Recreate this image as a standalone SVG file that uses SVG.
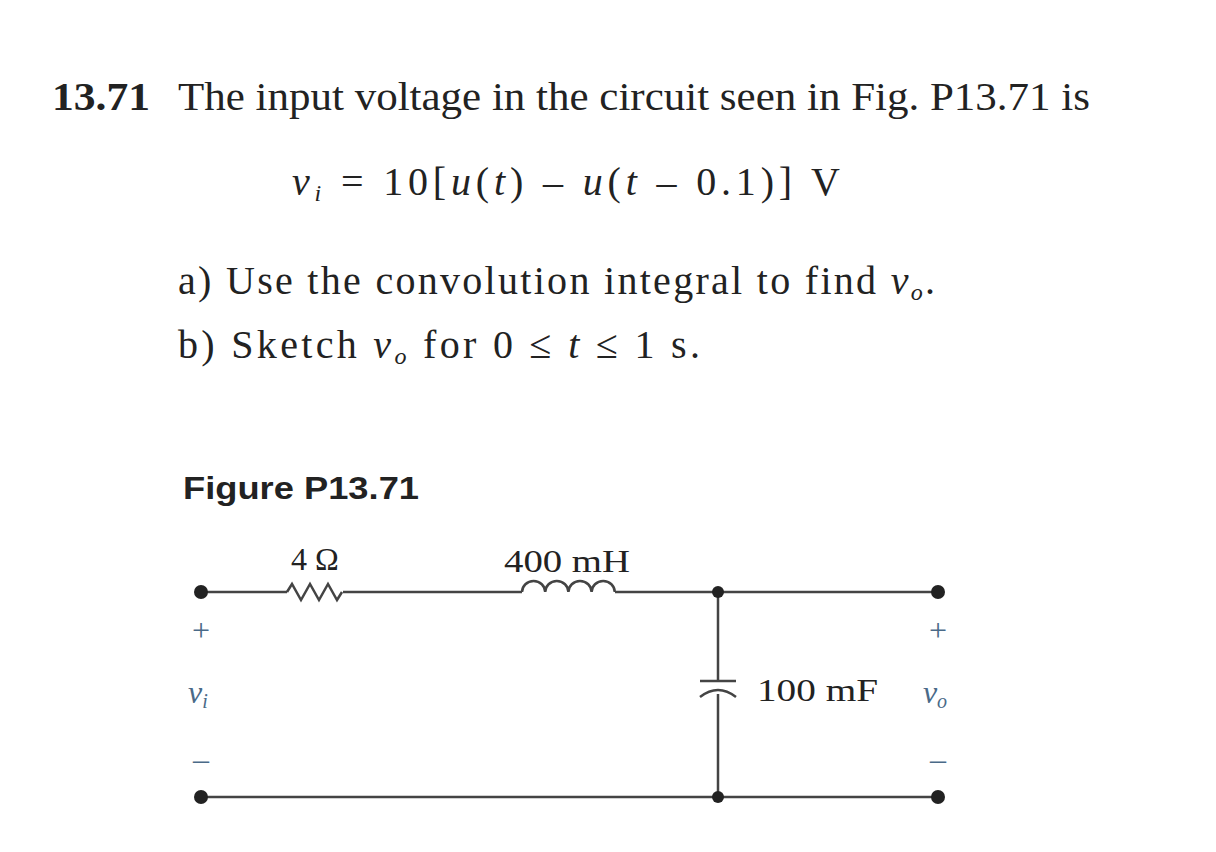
<svg xmlns="http://www.w3.org/2000/svg" width="1216" height="852" viewBox="0 0 1216 852">
<style>
.t{font-family:"Liberation Serif",serif;font-size:40px;fill:#222}
.s{font-family:"Liberation Sans",sans-serif;font-size:32px;font-weight:bold;fill:#222}
.c{font-family:"Liberation Serif",serif;font-size:32px;fill:#222}
.b{font-family:"Liberation Serif",serif;font-size:32px;fill:#4a6a88}
.w{stroke:#444;stroke-width:2.5;fill:none}
</style>
<rect width="1216" height="852" fill="#fff"/>
<text class="t" x="52" y="110" font-weight="bold" textLength="98" lengthAdjust="spacingAndGlyphs">13.71</text>
<text class="t" x="178" y="110" textLength="912" lengthAdjust="spacingAndGlyphs">The input voltage in the circuit seen in Fig. P13.71 is</text>
<text class="t" x="292" y="195" textLength="548"><tspan font-style="italic">v</tspan><tspan font-style="italic" font-size="24" dy="6">i</tspan><tspan dy="-6">  =  10[</tspan><tspan font-style="italic">u</tspan>(<tspan font-style="italic">t</tspan>) – <tspan font-style="italic">u</tspan>(<tspan font-style="italic">t</tspan> – 0.1)] V</text>
<text class="t" x="178" y="294" textLength="757">a)  Use the convolution integral to find <tspan font-style="italic">v</tspan><tspan font-style="italic" font-size="24" dy="6">o</tspan><tspan dy="-6">.</tspan></text>
<text class="t" x="178" y="358" textLength="522">b)  Sketch <tspan font-style="italic">v</tspan><tspan font-style="italic" font-size="24" dy="6">o</tspan><tspan dy="-6"> for 0 ≤ </tspan><tspan font-style="italic">t</tspan> ≤ 1 s.</text>
<text class="s" x="183" y="499" textLength="236" lengthAdjust="spacingAndGlyphs">Figure P13.71</text>
<g id="connectors">
<path class="w" d="M201 592 H287 M343 592 H522 M615 592 H938 M201 797 H938 M718 592 V681 M718 694 V797"/>
</g>
<g id="R1"><path class="w" d="M287 592 l5 -8 l9 16 l9 -16 l9 16 l9 -16 l9 16 l5 -8"/><text class="c" x="315" y="570" text-anchor="middle">4 Ω</text></g>
<g id="L1"><path class="w" d="M522 592 a11.6 11 0 0 1 23.2 0 a11.6 11 0 0 1 23.2 0 a11.6 11 0 0 1 23.2 0 a11.6 11 0 0 1 23.2 0"/><text class="c" x="567" y="572" text-anchor="middle" textLength="126" lengthAdjust="spacingAndGlyphs">400 mH</text></g>
<g id="C1"><path class="w" d="M700 681 H736 M700 697 Q718 683 736 697"/><text class="c" x="757" y="701" textLength="121" lengthAdjust="spacingAndGlyphs">100 mF</text></g>
<g id="terminals" fill="#222">
<circle cx="201" cy="592" r="7"/><circle cx="938" cy="592" r="7"/><circle cx="201" cy="797" r="7"/><circle cx="938" cy="797" r="7"/><circle cx="718" cy="592" r="6"/><circle cx="718" cy="797" r="6"/>
</g>
<g id="labels">
<text class="b" x="201" y="641" text-anchor="middle">+</text>
<text class="b" x="198" y="703" text-anchor="middle" font-style="italic">v<tspan font-size="20" dy="5">i</tspan></text>
<text class="b" x="201" y="770" text-anchor="middle">–</text>
<text class="b" x="938" y="641" text-anchor="middle">+</text>
<text class="b" x="935" y="703" text-anchor="middle" font-style="italic">v<tspan font-size="20" dy="5">o</tspan></text>
<text class="b" x="938" y="770" text-anchor="middle">–</text>
</g>
</svg>
